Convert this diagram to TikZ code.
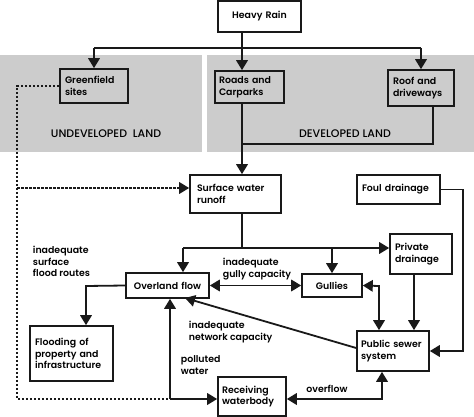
\documentclass[tikz,border=0pt]{standalone}
\usepackage{fontspec}
\setmainfont{Poppins SemiBold}
\usetikzlibrary{arrows.meta}
\begin{document}
\begin{tikzpicture}[x=1pt,y=-1pt,
  font=\fontsize{9.4}{11.8}\selectfont,
  line width=1.8pt,
  ln/.style={draw=black!90, line width=1.8pt},
  arr/.style={ln, -{Triangle[length=10pt,width=11.5pt]}},
  arrb/.style={ln, {Triangle[length=10pt,width=11.5pt]}-{Triangle[length=10pt,width=11.5pt]}},
  dsh/.style={draw=black!90, line width=1.8pt, dash pattern=on 2.5pt off 1.5pt},
  darr/.style={dsh, -{Triangle[length=10pt,width=11.5pt]}},
  box/.style={draw=black!90, line width=1.6pt, align=left, inner ysep=0pt, anchor=center},
  lbl/.style={align=left, inner sep=0pt, anchor=north west},
  panel/.style={fill=gray!40, draw=none},
  land/.style={inner sep=0pt, font=\fontspec{Poppins Medium}\fontsize{11}{13}\selectfont}
]
\useasboundingbox (0,0) rectangle (474,417);
\fill[white] (0,0) rectangle (474,417);
% panels
\path[panel] (0,55) rectangle (202,152);
\path[panel] (207,55) rectangle (474,152);
\node[land] (undev) at (106,134) {UNDEVELOPED\ \ LAND};
\node[land] (dev) at (345,134) {DEVELOPED LAND};
% boxes
\node[box, fill=white, text width=73pt, inner xsep=5pt, minimum height=31pt, align=center] (rain) at (259.5,16.5) {Heavy Rain};
\node[box, text width=58pt, inner xsep=5pt, minimum height=34pt] (green) at (94,86) {Greenfield\\sites};
\node[box, text width=61pt, inner xsep=4pt, minimum height=32pt] (roads) at (249.5,87) {Roads and\\Carparks};
\node[box, text width=56pt, inner xsep=5pt, minimum height=36pt] (roof) at (421,88) {Roof and\\driveways};
\node[box, text width=77pt, inner xsep=7pt, minimum height=38pt] (runoff) at (235.5,194) {Surface water\\runoff};
\node[box, text width=73pt, inner xsep=5pt, minimum height=29pt] (foul) at (398.5,189.5) {Foul drainage};
\node[box, text width=52pt, inner xsep=5pt, minimum height=40pt] (private) at (421,254) {Private\\drainage};
\node[box, text width=73pt, inner xsep=5pt, minimum height=25pt, align=center] (overland) at (167.5,285.5) {Overland flow};
\node[box, text width=50pt, inner xsep=5pt, minimum height=23pt, align=center] (gullies) at (332,285.5) {Gullies};
\node[box, text width=73pt, inner xsep=5pt, minimum height=55pt] (flood) at (71.5,353.5) {Flooding of\\property and\\infrastructure};
\node[box, text width=64pt, inner xsep=4pt, minimum height=40pt] (sewer) at (393,351) {Public sewer\\system};
\node[box, text width=60pt, inner xsep=4pt, minimum height=39pt] (recv) at (252,396.5) {Receiving\\waterbody};
% labels
\node[lbl] (l1) at (32,245) {inadequate\\surface\\flood routes};
\node[lbl] (l2) at (222,257) {inadequate\\gully capacity};
\node[lbl] (l3) at (188,320) {inadequate\\network capacity};
\node[lbl] (l4) at (180,355) {polluted\\water};
\node[inner sep=0pt] (l5) at (327,389) {overflow};
% coordinates
\coordinate (j1) at (242,48);
\coordinate (j2) at (242,248);
\coordinate (jr) at (433,144);
\coordinate (dg) at (17,86);
\coordinate (dr) at (17,188);
\coordinate (db) at (17,399);
\coordinate (jb) at (170,399);
\coordinate (jf) at (463,189.5);
\coordinate (jo) at (86,286);
\coordinate (jov) at (183,248);
\coordinate (jgu) at (379,286);
\coordinate (jpr) at (414,274);
\coordinate (jof) at (382,399);
\coordinate (jn) at (185,298);
% top tree
\draw[ln] (rain.south -| j1) -- (j1);
\draw[ln] (j1) -- (j1 -| green.north) (j1) -- (j1 -| roof.north);
\draw[arr] (j1) -- (j1 |- roads.north);
\draw[arr] (j1 -| green.north) -- (green.north);
\draw[arr] (j1 -| roof.north) -- (roof.north);
\draw[arr] (roads.south -| j1) -- (runoff.north -| j1);
\draw[ln] (roof.south -| jr) -- (jr) -- (jr -| j1);
% dashed
\draw[dsh] (green.west |- dg) -- (dg) -- (db) -- (jb);
\draw[darr] (dr) -- (runoff.west |- dr);
% foul
\draw[arr] (foul.east |- jf) -- (jf) |- (sewer.east);
% runoff split
\draw[ln] (runoff.south -| j2) -- (j2);
\draw[arr] (jov) -- (private.west |- jov);
\draw[arr] (jov) -- (overland.north -| jov);
\draw[arr] (j2 -| gullies.north) -- (gullies.north);
% overland-gullies
\draw[arrb] (overland.east) -- (gullies.west);
\draw[arrb] (gullies.east) -- (jgu) -- (sewer.north -| jgu);
\draw[arr] (private.south -| jpr) -- (sewer.north -| jpr);
\draw[arr] (sewer.west |- 0,348) -- (jn);
% overland to flooding
\draw[arr] (overland.west) -- (jo) -- (flood.north -| jo);
% receiving
\draw[arr] (jb) -- (overland.south -| jb);
\draw[arr] (jb) -- (recv.west |- jb);
\draw[arrb] (recv.east |- jof) -- (jof) -- (sewer.south -| jof);
\end{tikzpicture}
\end{document}
